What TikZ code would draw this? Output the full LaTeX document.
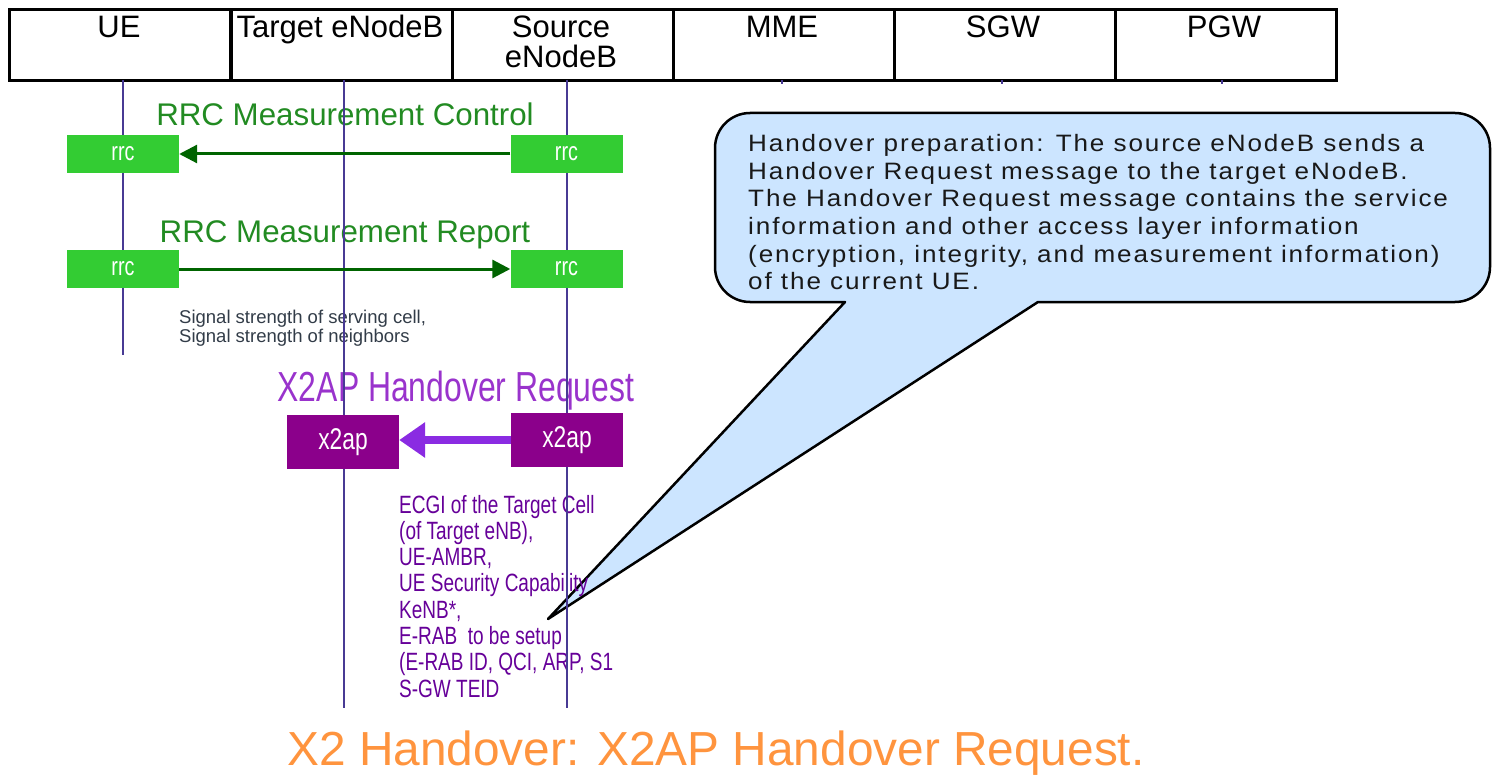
\documentclass[tikz,border=0pt]{standalone}
\usepackage{fontspec}
\setmainfont{Liberation Sans}
\newfontfamily\narrowfont[FakeStretch=0.76]{Liberation Sans}
\newfontfamily\calloutfont[FakeStretch=1.1,LetterSpace=8]{Liberation Sans}
\usetikzlibrary{arrows.meta}
\definecolor{lifec}{RGB}{72,58,148}
\definecolor{rrcgreen}{RGB}{51,204,51}
\definecolor{rrctext}{RGB}{34,139,34}
\definecolor{rrcdark}{RGB}{0,100,0}
\definecolor{notegray}{RGB}{50,60,72}
\definecolor{x2mag}{RGB}{139,0,139}
\definecolor{x2arrow}{RGB}{138,43,226}
\definecolor{x2title}{RGB}{153,51,204}
\definecolor{msgpurple}{RGB}{102,0,153}
\definecolor{cofill}{RGB}{204,229,255}
\definecolor{orangetitle}{RGB}{255,148,62}
\begin{document}
\begin{tikzpicture}[x=1pt,y=1pt,
  hdr/.style={draw=black,line width=3pt,minimum width=221pt,minimum height=71pt,inner sep=0pt,anchor=north west},
  hdrtxt/.style={anchor=base,inner sep=0pt,font=\fontsize{31}{31}\selectfont},
  life/.style={draw=lifec,line width=2.2pt},
  rrcbox/.style={fill=rrcgreen,text=white,minimum width=112pt,minimum height=38pt,inner sep=0pt,font=\narrowfont\fontsize{26}{26}\selectfont},
  x2box/.style={fill=x2mag,text=white,minimum width=112pt,minimum height=54pt,inner sep=0pt,font=\narrowfont\fontsize{30}{30}\selectfont},
  rrctitle/.style={anchor=base,inner sep=0pt,text=rrctext,font=\fontsize{31.3}{31}\selectfont},
  rrcarrow/.style={draw=rrcdark,line width=3pt,-{Triangle[length=18pt,width=18pt]}},
  note/.style={anchor=base west,inner sep=0pt,text=notegray,font=\fontsize{18.5}{19}\selectfont},
  msg/.style={anchor=base west,inner sep=0pt,text=msgpurple,font=\narrowfont\fontsize{25}{26}\selectfont},
  cotext/.style={anchor=base west,inner sep=0pt,text=black!90,font=\calloutfont\fontsize{23.7}{28}\selectfont},
]
\useasboundingbox (0,0) rectangle (1502,-778);

% callout (drawn first, behind everything)
\coordinate (tip) at (548,-619);
\draw[fill=cofill,line width=2.5pt,line join=round]
  (845,-302) -- (750,-302) arc[start angle=270,end angle=180,radius=35]
  -- (715,-148) arc[start angle=180,end angle=90,radius=35]
  -- (1455,-113) arc[start angle=90,end angle=0,radius=35]
  -- (1490,-267) arc[start angle=0,end angle=-90,radius=35]
  -- (1038,-302) -- (tip) -- cycle;
\node[cotext] (c1) at (748,-152) {Handover preparation: The source eNodeB sends a};
\node[cotext] (c2) at (748,-179.5) {Handover Request message to the target eNodeB.};
\node[cotext] (c3) at (748,-207) {The Handover Request message contains the service};
\node[cotext] (c4) at (748,-234.5) {information and other access layer information};
\node[cotext] (c5) at (748,-262) {(encryption, integrity, and measurement information)};
\node[cotext] (c6) at (748,-289.5) {of the current UE.};

% header
\node[hdr] (hue) at (8,-8) {};
\node[hdr] (htg) at (230,-8) {};
\node[hdr] (hsr) at (451,-8) {};
\node[hdr] (hmme) at (672,-8) {};
\node[hdr] (hsgw) at (893,-8) {};
\node[hdr] (hpgw) at (1114,-8) {};
\node[hdrtxt] (tue) at (119,-38) {UE};
\node[hdrtxt] (ttg) at (340,-38) {Target eNodeB};
\node[hdrtxt] (tsr1) at (561,-38) {Source};
\node[hdrtxt] (tsr2) at (561,-68) {eNodeB};
\node[hdrtxt] (tmme) at (782,-38) {MME};
\node[hdrtxt] (tsgw) at (1003,-38) {SGW};
\node[hdrtxt] (tpgw) at (1224,-38) {PGW};

% titles and notes
\node[rrctitle] (t1) at (345,-126) {RRC Measurement Control};
\node[rrctitle] (t2) at (345,-243) {RRC Measurement Report};
\node[note] (n1) at (179,-323) {Signal strength of serving cell,};
\node[note] (n2) at (179,-342) {Signal strength of neighbors};
\node[anchor=base,inner sep=0pt,text=x2title,font=\narrowfont\fontsize{42}{42}\selectfont] (t3) at (456,-401) {X2AP Handover Request};

\node[msg] (m1) at (399,-513) {ECGI of the Target Cell};
\node[msg] (m2) at (399,-539.3) {(of Target eNB),};
\node[msg] (m3) at (399,-565.6) {UE-AMBR,};
\node[msg] (m4) at (399,-591.9) {UE Security Capability};
\node[msg] (m5) at (399,-618.2) {KeNB*,};
\node[msg] (m6) at (399,-644.5) {E-RAB\ \ to be setup};
\node[msg] (m7) at (399,-670.8) {(E-RAB ID, QCI, ARP, S1};
\node[msg] (m8) at (399,-697.1) {S-GW TEID};

% lifelines
\coordinate (lue) at (123,-355);
\coordinate (ltg) at (344,-708);
\coordinate (lsr) at (567,-708);
\draw[life] (123,-80) -- (lue);
\draw[life] (344,-80) -- (ltg);
\draw[life] (567,-80) -- (lsr);
\draw[life] (782,-80) -- (782,-84);
\draw[life] (1002,-80) -- (1002,-84);
\draw[life] (1222,-80) -- (1222,-84);

% rrc messages
\node[rrcbox] (r1a) at (123,-154) {rrc};
\node[rrcbox] (r1b) at (566.5,-154) {rrc};
\node[rrcbox] (r2a) at (123,-269) {rrc};
\node[rrcbox] (r2b) at (566.5,-269) {rrc};
\draw[rrcarrow] (r1b.west) -- (r1a.east);
\draw[rrcarrow] (r2a.east) -- (r2b.west);

% x2ap message
\node[x2box] (x1) at (343,-442) {x2ap};
\node[x2box] (x2) at (567,-440) {x2ap};
\draw[draw=x2arrow,line width=8pt,-{Triangle[length=26pt,width=34pt]}] (x2.west) -- (x2.west -| x1.east);

% bottom title
\node[anchor=base,inner sep=0pt,text=orangetitle,font=\fontsize{47.8}{48}\selectfont] (bt) at (716,-765) {X2 Handover: X2AP Handover Request.};
\end{tikzpicture}
\end{document}
